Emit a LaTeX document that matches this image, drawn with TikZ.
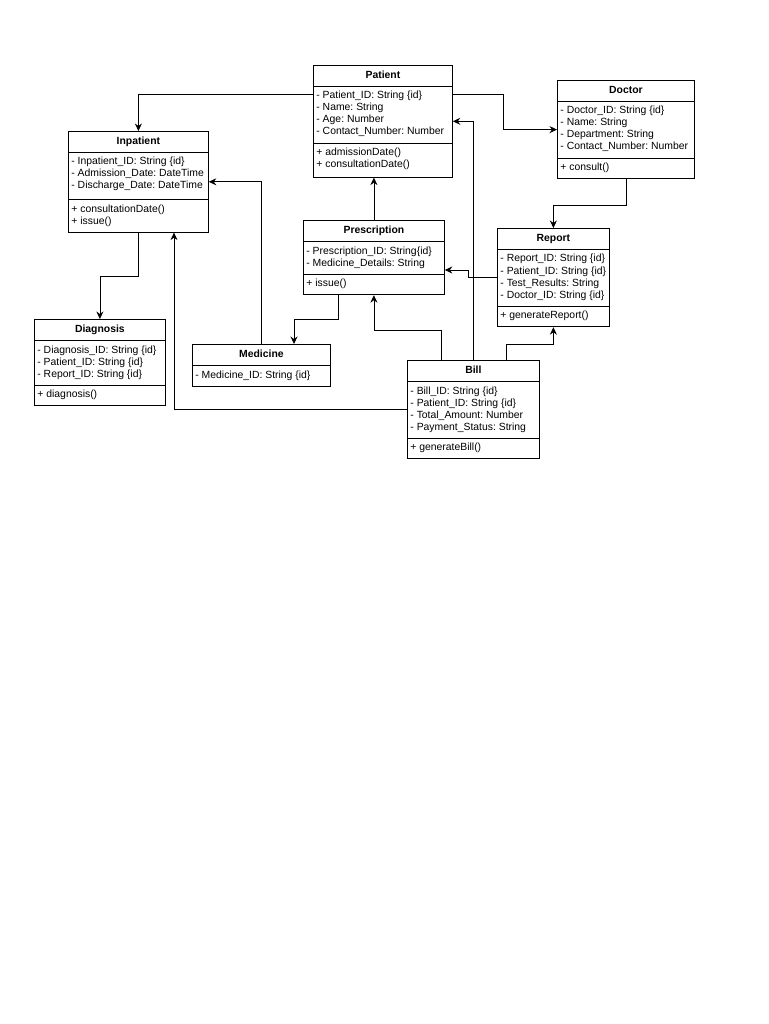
\documentclass[tikz,border=0pt]{standalone}
\usepackage{fontspec}
\setmainfont{Liberation Sans}
\usepackage{tikz}
\usetikzlibrary{shapes.multipart,arrows.meta,positioning,calc}
\frenchspacing

\begin{document}
\begin{tikzpicture}[
        x=1pt, y=-1pt,
        umlclass/.style={rectangle split, rectangle split parts=3, draw=black, fill=white, line width=0.8pt,
            anchor=north west, align=left, inner xsep=3pt, inner ysep=4pt,
            rectangle split part align={center,left,left},
            font=\fontsize{10.4}{12}\selectfont},
        link/.style={-{Stealth[length=7.5pt,width=7pt,inset=2.5pt]}, line width=0.8pt, draw=black}
    ]
        \fill[white] (0,0) rectangle (768,1024);
        \useasboundingbox (0,0) rectangle (768,1024);

        % Classes
        \node[umlclass, minimum width=139pt] (pat) at (313,65) {\strut\textbf{Patient}
            \nodepart{two} \strut- Patient\_ID: String \{id\}\\ - Name: String\\ - Age: Number\\ - Contact\_Number: Number\strut
            \nodepart{three} \strut+ admissionDate()\\ + consultationDate()\strut\rule[-5pt]{0pt}{1pt}};
        \node[umlclass, minimum width=140pt] (inp) at (68,131) {\strut\textbf{Inpatient}
            \nodepart{two} \strut- Inpatient\_ID: String \{id\}\\ - Admission\_Date: DateTime\\ - Discharge\_Date: DateTime\strut\rule[-6pt]{0pt}{1pt}
            \nodepart{three} \strut+ consultationDate()\\ + issue()\strut};
        \node[umlclass, minimum width=137pt] (doc) at (557,80) {\strut\textbf{Doctor}
            \nodepart{two} \strut- Doctor\_ID: String \{id\}\\ - Name: String\\ - Department: String\\ - Contact\_Number: Number\strut
            \nodepart{three} \strut+ consult()};
        \node[umlclass, minimum width=141pt] (pre) at (303,220) {\strut\textbf{Prescription}
            \nodepart{two} \strut- Prescription\_ID: String\{id\}\\ - Medicine\_Details: String\strut
            \nodepart{three} \strut+ issue()};
        \node[umlclass, minimum width=112pt] (rep) at (497,228) {\strut\textbf{Report}
            \nodepart{two} \strut- Report\_ID: String \{id\}\\ - Patient\_ID: String \{id\}\\ - Test\_Results: String\\ - Doctor\_ID: String \{id\}\strut
            \nodepart{three} \strut+ generateReport()};
        \node[umlclass, minimum width=131pt] (dia) at (34,319) {\strut\textbf{Diagnosis}
            \nodepart{two} \strut- Diagnosis\_ID: String \{id\}\\ - Patient\_ID: String \{id\}\\ - Report\_ID: String \{id\}\strut
            \nodepart{three} \strut+ diagnosis()};
        \node[umlclass, rectangle split parts=2, minimum width=138pt] (med) at (192,344) {\strut\textbf{Medicine}
            \nodepart{two} \strut- Medicine\_ID: String \{id\}};
        \node[umlclass, minimum width=132pt] (bill) at (407,360) {\strut\textbf{Bill}
            \nodepart{two} \strut- Bill\_ID: String \{id\}\\ - Patient\_ID: String \{id\}\\ - Total\_Amount: Number\\ - Payment\_Status: String\strut
            \nodepart{three} \strut+ generateBill()};

        % Associations
        \draw[link] ([yshift=-29pt]pat.north west) -| (inp.north);
        \draw[link] ([yshift=-29pt]pat.north east) -- ++(51,0) |- (doc.west);
        \draw[link] (bill.north) |- (pat.east);
        \draw[link] (doc.south) -- ++(0,26) -| (rep.north);
        \draw[link] (pre.north) -- (pre.north |- pat.south);
        \draw[link] (med.north) |- (inp.east);
        \draw[link] (inp.south) -- ++(0,44) -| (dia.north);
        \draw[link] ([xshift=35pt]pre.south west) -- ++(0,24) -| ([xshift=102pt]med.north west);
        \draw[link] ([xshift=34pt]bill.north west) -- ++(0,-30) -| (pre.south);
        \draw[link] ([xshift=99pt]bill.north west) -- ++(0,-16) -| (rep.south);
        \draw[link] (bill.west) -| ([xshift=106pt]inp.south west);
        \draw[link] (rep.west) -- ++(-29,0) |- ([yshift=-50pt]pre.north east);
    \end{tikzpicture}
\end{document}
